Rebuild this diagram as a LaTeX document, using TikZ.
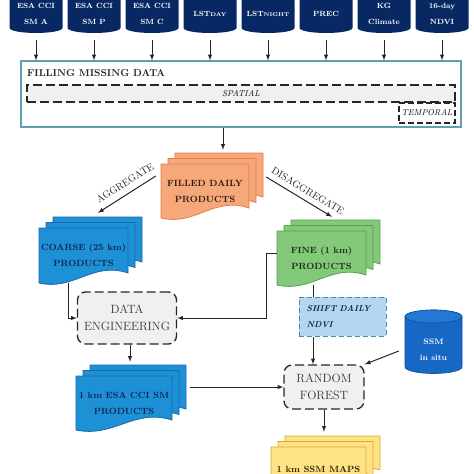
\documentclass[tikz,border=0pt]{standalone}
\usepackage{tikz}

\definecolor{navy}{RGB}{8,40,100}
\definecolor{fmdline}{RGB}{100,158,178}
\definecolor{orangefill}{RGB}{247,168,122}
\definecolor{orangeline}{RGB}{226,125,70}
\definecolor{bluefill}{RGB}{30,145,214}
\definecolor{blueline}{RGB}{22,105,170}
\definecolor{greenfill}{RGB}{132,200,122}
\definecolor{greenline}{RGB}{88,160,82}
\definecolor{yellowfill}{RGB}{255,226,132}
\definecolor{yellowline}{RGB}{212,172,52}
\definecolor{shiftfill}{RGB}{180,214,240}
\definecolor{shiftline}{RGB}{70,140,175}
\definecolor{ssmfill}{RGB}{22,104,196}
\definecolor{ssmtop}{RGB}{34,120,212}
\definecolor{ssmline}{RGB}{14,80,160}
\definecolor{navytext}{RGB}{16,36,82}
\definecolor{browntext}{RGB}{45,28,18}
\definecolor{greentext}{RGB}{26,42,26}
\definecolor{mapstext}{RGB}{45,35,10}

% small raised-off label for LST names
\newcommand{\lsub}[1]{\raisebox{-0.4pt}{\fontsize{5.5}{6}\selectfont #1}}

% stack of three documents: name, x, y (top left), width, height, fill, line, text colour, text
\newcommand{\docstack}[9]{%
  \foreach \k in {2,1,0}{%
    \draw[fill=#6,draw=#7,line width=0.8pt,shift={(7*\k,-5.5*\k)}]
      (#2,#3) -- (#2+#4,#3) -- (#2+#4,#3+#5-10)
      .. controls (#2+0.6*#4,#3+#5-22) and (#2+0.4*#4,#3+#5+8) .. (#2,#3+#5) -- cycle;
  }
  \node[doctext,text=#8,minimum width=#4pt,minimum height=#5pt] (#1) at (#2+#4/2,#3+#5/2) {#9};
}

\begin{document}
\begin{tikzpicture}[x=1pt,y=-1pt,>=latex,
  arrow/.style={->,line width=1pt,draw=black!85},
  plainline/.style={line width=1pt,draw=black!85},
  cyltext/.style={text=white,font=\bfseries\fontsize{7.5}{16}\selectfont,align=center,minimum height=38pt,inner sep=0pt},
  doctext/.style={font=\bfseries\fontsize{9}{16}\selectfont,align=center,inner sep=0pt},
  dashbox/.style={draw=black!85,dash pattern=on 9pt off 4pt,line width=1.3pt,rounded corners=8pt,fill=black!6,text=black!80,font=\fontsize{12}{17}\selectfont,align=center,inner sep=0pt}]
\useasboundingbox (0,0) rectangle (474,474);
\clip (0,0) rectangle (474,474);

% Filling missing data
\node[draw=fmdline,line width=1.2pt,minimum width=440pt,minimum height=66pt,inner sep=0pt] (fmd) at (241,94) {};
\node[anchor=west,font=\bfseries\fontsize{10}{12}\selectfont,text=black!85,inner sep=0pt] (fmdtitle) at (27,73) {FILLING MISSING DATA};
\node[draw=black!85,dash pattern=on 9pt off 4pt,line width=1.1pt,fill=black!6,minimum width=428pt,minimum height=17pt,inner sep=0pt,font=\itshape\fontsize{8.5}{10}\selectfont] (spatial) at (241,93.5) {SPATIAL};
\node[draw=black!85,dash pattern=on 6pt off 3pt,line width=1.1pt,fill=white,minimum width=56pt,minimum height=20pt,inner sep=0pt,font=\itshape\fontsize{8.5}{10}\selectfont] (temporal) at (427,113) {TEMPORAL};

% Input data sources
\foreach \cx/\txt [count=\i] in {36/{ESA CCI\\SM A},94/{ESA CCI\\SM P},152/{ESA CCI\\SM C},210/{LST\lsub{DAY}},268/{LST\lsub{NIGHT}},326/PREC,384/{KG\\Climate},442/{16-day\\NDVI}}{
  \fill[navy] (\cx-26.5,-5) -- (\cx-26.5,28) arc[start angle=180,end angle=0,x radius=26.5,y radius=5] -- (\cx+26.5,-5) -- cycle;
  \node[cyltext] (c\i) at (\cx,14) {\txt};
  \draw[arrow,shorten <=7pt] (c\i.south) -- (c\i.south |- fmd.north);
}

% Products
\docstack{filled}{161}{164}{88}{54}{orangefill}{orangeline}{browntext}{FILLED DAILY\\PRODUCTS}
\docstack{coarse}{39}{228}{89}{55}{bluefill}{blueline}{navytext}{COARSE (25 km)\\PRODUCTS}
\docstack{fine}{277}{231}{89}{54}{greenfill}{greenline}{greentext}{FINE (1 km)\\PRODUCTS}
\docstack{esa1km}{76}{376}{96}{54}{bluefill}{blueline}{navytext}{1 km ESA CCI SM\\PRODUCTS}
\docstack{maps}{271}{447}{95}{44}{yellowfill}{yellowline}{mapstext}{1 km SSM MAPS}

% Processing steps
\node[dashbox,minimum width=99pt,minimum height=52pt] (dataeng) at (127,318) {DATA\\ENGINEERING};
\node[dashbox,minimum width=80pt,minimum height=44pt] (rf) at (324,387) {RANDOM\\FOREST};
\node[draw=shiftline,fill=shiftfill,dash pattern=on 5pt off 3pt,line width=1pt,minimum width=87pt,minimum height=39pt,text width=72pt,align=left,inner sep=0pt,font=\bfseries\itshape\fontsize{8.5}{16}\selectfont,text=navytext] (shift) at (342.5,316.5) {SHIFT DAILY\\NDVI};

% In situ data
\draw[ssmline,fill=ssmfill,line width=0.6pt] (405,316.5) -- (405,367) arc[start angle=180,end angle=0,x radius=28.5,y radius=6.5] -- (462,316.5) arc[start angle=0,end angle=-180,x radius=28.5,y radius=6.5] -- cycle;
\draw[ssmline,fill=ssmtop,line width=0.6pt] (433.5,316.5) ellipse [x radius=28.5,y radius=6.5];
\node[text=white,font=\bfseries\fontsize{8}{16}\selectfont,align=center,minimum width=57pt,inner sep=0pt] (ssm) at (433.5,350) {SSM\\in situ};

% Connectors
\coordinate (fillin) at ([xshift=18pt]filled.north);
\draw[arrow,shorten >=14pt] (fillin |- fmd.south) -- (fillin);
\draw[arrow] ([shift={(-5,-15)}]filled.west) -- ([shift={(14.5,-15)}]coarse.north);
\node[rotate=32,font=\fontsize{10}{12}\selectfont,text=black!85] (agglabel) at (125,183) {AGGREGATE};
\draw[arrow] ([shift={(17,-14)}]filled.east) -- ([shift={(10.5,-14)}]fine.north);
\node[rotate=-31,font=\fontsize{10}{12}\selectfont,text=black!85] (disagglabel) at (308,191) {DISAGGREGATE};

\draw[arrow] ([xshift=-15pt]coarse.south) |- (dataeng.west);
\draw[arrow] ([shift={(0,-5)}]fine.west) -- ++(-10,0) |- (dataeng.east);
\draw[arrow,shorten >=14pt] ([xshift=3pt]dataeng.south) -- ([xshift=3pt]dataeng.south |- esa1km.north);

\coordinate (fineout) at ([xshift=-8.5pt]fine.south);
\draw[plainline] (fineout) -- (fineout |- shift.north);
\draw[arrow] (fineout |- shift.south) -- (fineout |- rf.north);

\coordinate (esaout) at ([xshift=18pt]esa1km.east);
\draw[arrow] (esaout |- rf.west) -- (rf.west);
\draw[arrow] ([shift={(-6,1)}]ssm.west) -- (rf.north east);
\draw[arrow,shorten >=15pt] (rf.south) -- (rf.south |- maps.north);
\end{tikzpicture}
\end{document}
